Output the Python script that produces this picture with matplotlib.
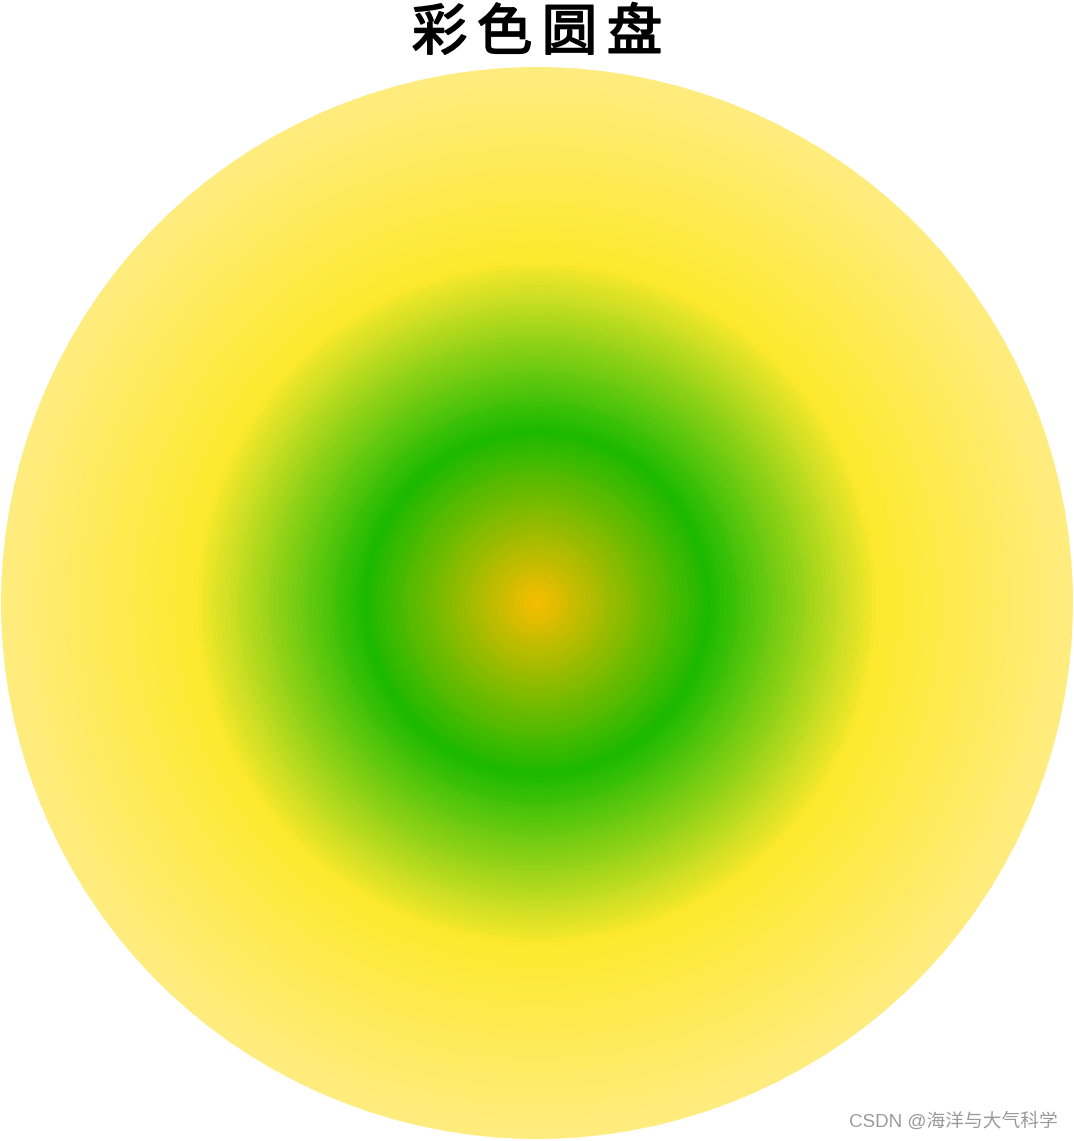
import numpy as np
import matplotlib
matplotlib.use("Agg")
import matplotlib.pyplot as plt
import matplotlib.patheffects as pe
from matplotlib.colors import LinearSegmentedColormap

plt.rcParams['font.family'] = ['Noto Sans CJK SC', 'DejaVu Sans']

# data
title = "彩色圆盘"
watermark = "CSDN @海洋与大气科学"
color_positions = [0.0, 0.32, 0.64, 1.0]
color_stops = ["#f7bd00", "#1ab900", "#fde92d", "#ffec80"]
radius_edges = np.linspace(0.0, 1.0, 121)
theta_edges = np.linspace(0.0, 2 * np.pi, 361)

cmap = LinearSegmentedColormap.from_list("disc", list(zip(color_positions, color_stops)))

W, H = 1074, 1141
fig = plt.figure(figsize=(W / 100, H / 100), dpi=100)
ax = fig.add_axes([0, 2 / H, 1, 1072 / H], projection="polar")
T, R = np.meshgrid(theta_edges, radius_edges)
rc = 0.5 * (radius_edges[:-1] + radius_edges[1:])
vals = np.tile(rc[:, None], (1, len(theta_edges) - 1))
ax.pcolormesh(T, R, vals, cmap=cmap, vmin=0, vmax=1, shading="flat", antialiased=False, edgecolors="none")
ax.set_ylim(0, 1)
ax.axis("off")

# title with wide letter spacing (as in the reference)
pitch = 65
n = len(title)
for i, ch in enumerate(title):
    xc = W / 2 + (i - (n - 1) / 2) * pitch
    fig.text(xc / W, 1 - 34 / H, ch, ha="center", va="center", fontsize=40, fontweight="normal",
             path_effects=[pe.withStroke(linewidth=1.2, foreground="black")])

fig.text(1058 / W, 1 - 1122 / H, watermark, ha="right", va="center", fontsize=13.5,
         color="#9a9a9a", family=['Liberation Sans', 'Noto Sans CJK SC'])

fig.savefig("out.png", dpi=100)
